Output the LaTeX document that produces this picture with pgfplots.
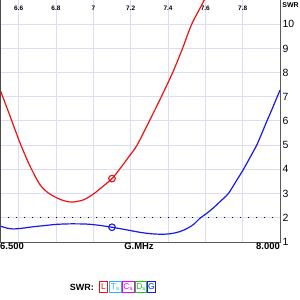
\documentclass[border=0pt]{standalone}
\usepackage{pgfplots}
\pgfplotsset{compat=1.18}
\usepackage{fontspec}
\setmainfont{Liberation Sans}
\definecolor{gridc}{HTML}{DCDCF6}
\definecolor{redc}{HTML}{F01010}
\definecolor{bluec}{HTML}{1818F0}
\definecolor{cyanc}{HTML}{30B0F0}
\definecolor{magc}{HTML}{F000F0}
\definecolor{grnc}{HTML}{20C020}
\begin{document}
\begin{tikzpicture}[x=1bp,y=1bp]
\path[use as bounding box] (0,-58) rectangle (300,242);
\begin{axis}[
  anchor=south west,
  scale only axis, width=280bp, height=242bp,
  xmin=6.5, xmax=8.0, ymin=1, ymax=11,
  xtick={6.6,6.8,7.0,7.2,7.4,7.6,7.8},
  xticklabels={6.6,6.8,7,7.2,7.4,7.6,7.8},
  ytick={1,2,3,4,5,6,7,8,9,10},
  xticklabel pos=upper,
  yticklabel pos=right,
  major tick length=0pt,
  grid=major,
  grid style={color=gridc, line width=1bp},
  axis line style={draw=gray!70!black, line width=1bp},
  /pgf/number format/assume math mode=true,
  xticklabel style={font=\fontsize{6.5}{7}\selectfont\bfseries, anchor=center, yshift=-8bp},
  yticklabel style={font=\fontsize{10.5}{12}\selectfont, anchor=west, xshift=-1bp},
  clip=true,
]
\addplot[black, line width=1.2bp, dash pattern=on 1.2bp off 6.8bp] coordinates {(6.5,2) (8.0,2)};
\addplot[redc, line width=1.2bp, smooth] coordinates {
(6.500,7.30) (6.554,6.20) (6.607,5.10) (6.660,4.15) (6.714,3.37) (6.760,3.02)
(6.811,2.80) (6.850,2.69) (6.891,2.65) (6.950,2.75) (7.000,2.98) (7.036,3.20)
(7.100,3.62) (7.140,4.00) (7.190,4.52) (7.234,5.00) (7.300,6.00) (7.364,7.00)
(7.425,8.00) (7.478,9.00) (7.527,10.00) (7.588,10.90) (7.610,11.30)};
\addplot[bluec, line width=1.2bp, smooth] coordinates {
(6.500,1.66) (6.540,1.57) (6.571,1.54) (6.620,1.57) (6.678,1.63) (6.740,1.68)
(6.804,1.73) (6.880,1.75) (6.964,1.74) (7.030,1.69) (7.100,1.61) (7.180,1.50)
(7.250,1.40) (7.310,1.34) (7.375,1.32) (7.420,1.35) (7.464,1.43) (7.500,1.55)
(7.536,1.72) (7.571,1.98) (7.607,2.18) (7.643,2.41) (7.679,2.67) (7.723,3.00)
(7.764,3.50) (7.804,4.00) (7.840,4.50) (7.875,5.00) (7.903,5.50) (7.930,6.00)
(7.958,6.50) (7.985,7.00) (8.000,7.27)};
\addplot[redc, only marks, mark=o, mark size=3.3bp, line width=1.1bp] coordinates {(7.1,3.62)};
\addplot[bluec, only marks, mark=o, mark size=3.3bp, line width=1.1bp] coordinates {(7.1,1.61)};
\end{axis}
\draw[color=black!70, line width=1.6bp] (0,0) -- (0,242);
\node[font=\fontsize{7}{8}\selectfont\bfseries, anchor=center] at (290.5,236.5) {SWR};
\node[font=\fontsize{9.5}{10}\selectfont\bfseries, anchor=west, inner sep=0pt] at (0,-4.5) {6.500};
\node[font=\fontsize{9.5}{10}\selectfont\bfseries, anchor=center, inner sep=0pt] at (139,-4.5) {G.MHz};
\node[font=\fontsize{9.5}{10}\selectfont\bfseries, anchor=east, inner sep=0pt] at (280,-4.5) {8.000};
\node[font=\fontsize{9}{10}\selectfont\bfseries, anchor=east, inner sep=0pt] at (94,-45) {SWR:};
\begin{scope}[every node/.style={font=\fontsize{8.5}{9}\selectfont, draw, line width=0.8bp, fill=white, minimum height=10.5bp, inner sep=0.4bp, anchor=center}]
\node[draw=redc, text=redc, minimum width=7.5bp] at (103.5,-45) {L};
\node[draw=cyanc, text=cyanc, minimum width=11.5bp] at (115.3,-45) {T\textsubscript{s}};
\node[draw=magc, text=magc, minimum width=11.5bp] at (128.2,-45) {C\textsubscript{s}};
\node[draw=grnc, text=grnc, minimum width=11.5bp] at (141.1,-45) {D\textsubscript{s}};
\node[draw=bluec, text=bluec, minimum width=7bp] at (151.5,-45) {G};
\end{scope}
\end{tikzpicture}
\end{document}
